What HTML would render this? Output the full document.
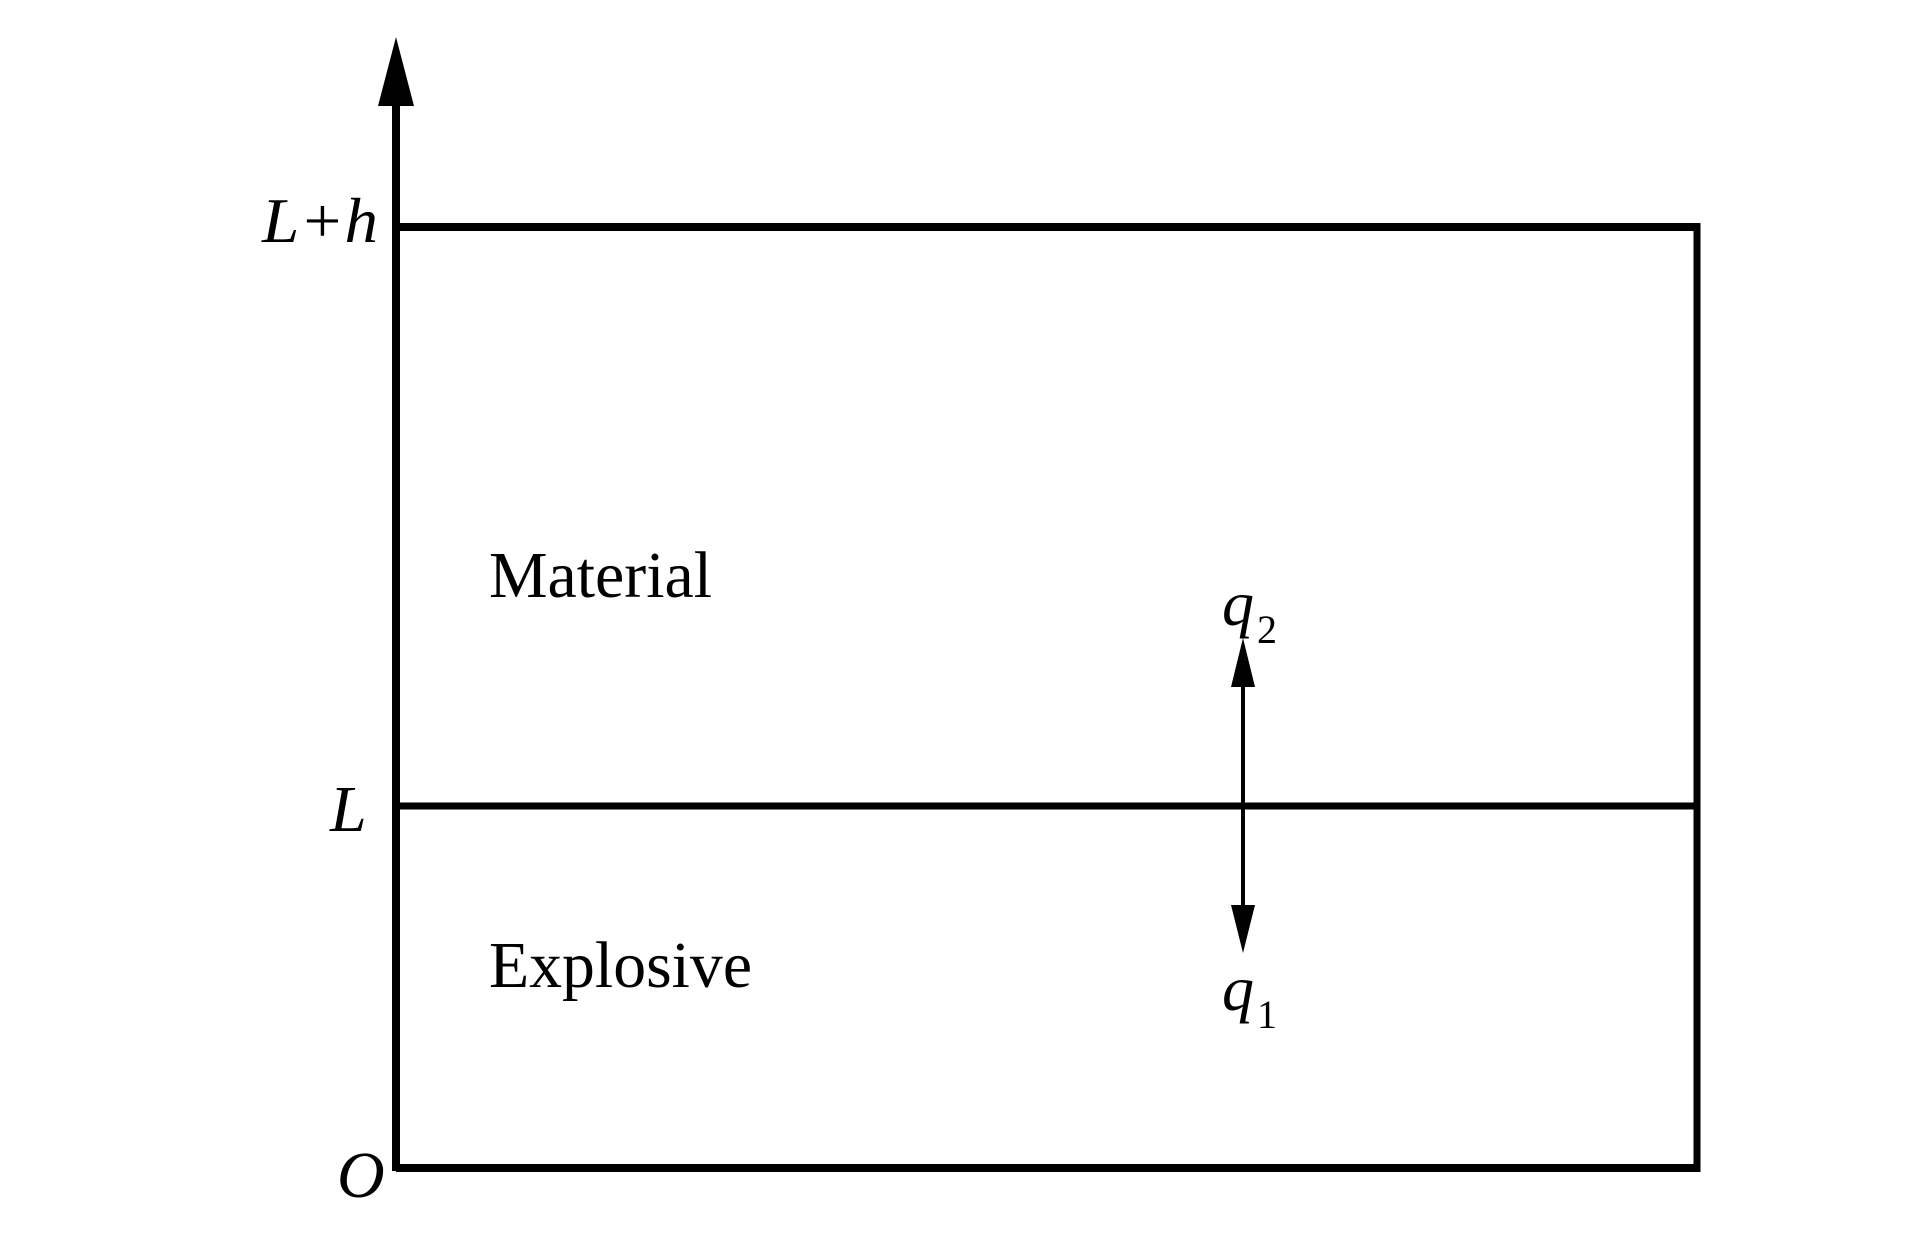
<!DOCTYPE html>
<html><head><meta charset="utf-8"><style>
html,body{margin:0;padding:0;background:#fff;width:1923px;height:1235px;overflow:hidden}
svg{display:block}
text{font-family:"Liberation Serif",serif;fill:#000}
</style></head><body>
<svg width="1923" height="1235" viewBox="0 0 1923 1235" xmlns="http://www.w3.org/2000/svg">
<line x1="396" y1="100" x2="396" y2="1171" stroke="#000" stroke-width="8"/>
<polygon points="396,37 378,106 414,106" fill="#000"/>
<line x1="396" y1="227" x2="1697" y2="227" stroke="#000" stroke-width="8"/>
<line x1="396" y1="806" x2="1697" y2="806" stroke="#000" stroke-width="7"/>
<line x1="396" y1="1168" x2="1697" y2="1168" stroke="#000" stroke-width="8"/>
<line x1="1697" y1="223" x2="1697" y2="1172" stroke="#000" stroke-width="7"/>
<line x1="1243" y1="680" x2="1243" y2="910" stroke="#000" stroke-width="4"/>
<polygon points="1243,638 1231,687 1255,687" fill="#000"/>
<polygon points="1243,953 1231,905 1255,905" fill="#000"/>
<text x="262" y="242" font-size="64" font-style="italic" textLength="116" lengthAdjust="spacingAndGlyphs">L+h</text>
<text x="330" y="831" font-size="66" font-style="italic">L</text>
<text x="337" y="1197" font-size="66" font-style="italic">O</text>
<text x="489" y="597" font-size="66" textLength="223" lengthAdjust="spacingAndGlyphs">Material</text>
<text x="489" y="987" font-size="66" textLength="263" lengthAdjust="spacingAndGlyphs">Explosive</text>
<text x="1222" y="625" font-size="64" font-style="italic">q</text>
<text x="1257" y="643" font-size="40">2</text>
<text x="1222" y="1010" font-size="64" font-style="italic">q</text>
<text x="1257" y="1028" font-size="40">1</text>
</svg>
</body></html>
